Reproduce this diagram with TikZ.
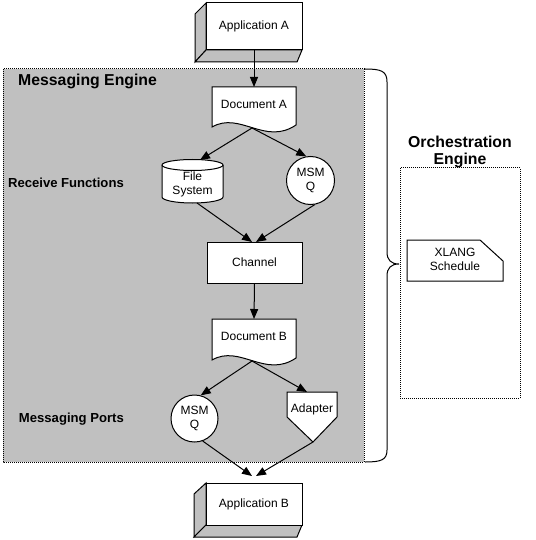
\documentclass[tikz,border=0pt]{standalone}
\usepackage{fontspec}
\setmainfont{Liberation Sans}
\usetikzlibrary{arrows.meta}
\definecolor{engray}{HTML}{C0C0C0}
\begin{document}
\begin{tikzpicture}[x=1pt,y=-1pt,
  shp/.style={draw=black, line width=1pt, fill=white},
  side/.style={draw=black, line width=1pt, fill=engray},
  txt/.style={font=\fontsize{12}{14}\selectfont, align=center, inner sep=0pt},
  ttl/.style={font=\fontsize{15.8}{17.5}\selectfont\bfseries, align=center, inner sep=0pt},
  lab/.style={font=\fontsize{13.1}{15}\selectfont\bfseries, inner sep=0pt, anchor=base east},
  conn/.style={draw=black, line width=1pt, -{Triangle[length=10pt,width=8pt]}},
  dotbox/.style={draw=black, line width=1pt, dash pattern=on 1pt off 1pt}]
\useasboundingbox (0,0) rectangle (535,540);

% engines
\path[dotbox, fill=engray] (3,69) rectangle (364,462);
\path[dotbox, fill=white] (400,168) rectangle (520,398);
\draw[line width=1pt] (365,69) .. controls (381,69) and (387,71) .. (387,82) -- (387,252)
  .. controls (387,260) and (391,264) .. (399,264)
  .. controls (391,264) and (387,268) .. (387,276) -- (387,450)
  .. controls (387,460) and (381,462) .. (365,462);

\node[ttl, anchor=base west] (meTitle) at (18,86) {Messaging Engine};
\node[ttl] (oeTitle) at (460,152) {Orchestration\\Engine};
\node[lab] (rf) at (124,187) {Receive Functions};
\node[lab] (mp) at (124,422) {Messaging Ports};

% Application A
\path[side] (206,3) -- (195,14) -- (195,62) -- (206,50) -- cycle;
\path[side] (206,50) -- (195,62) -- (297,62) -- (302,50) -- cycle;
\node[shp, txt, minimum width=96pt, minimum height=47pt] (appA) at (254,26.5) {Application A};

% Document A
\path[shp] (212,87) -- (296,87) -- (296,125) .. controls (265,146) and (240,111) .. (212,127) -- cycle;
\node[txt] (docA) at (254,104) {Document A};
\coordinate (docA-n) at (254,87);
\coordinate (docA-s) at (252,128);

% File System
\path[shp] (162,165) -- (162,197) arc[start angle=180, end angle=0, x radius=30.5, y radius=6]
  -- (223,165) arc[start angle=0, end angle=-180, x radius=30.5, y radius=5.5] -- cycle;
\draw[line width=1pt] (162,165) arc[start angle=180, end angle=0, x radius=30.5, y radius=5.5];
\node[txt] (fs) at (192.5,184) {File\\System};
\coordinate (fs-n) at (200,160);
\coordinate (fs-s) at (197,203);

% MSM Q (receive)
\node[shp, circle, txt, minimum size=48pt] (msmA) at (310.5,180.5) {MSM\\Q};

% Channel
\node[shp, txt, minimum width=95pt, minimum height=41pt] (channel) at (254.5,262.5) {Channel};
\coordinate (ch-n1) at (252,242);
\coordinate (ch-n2) at (256,242);

% Document B
\path[shp] (212,319) -- (296,319) -- (296,358) .. controls (265,379) and (240,344) .. (212,360) -- cycle;
\node[txt] (docB) at (254,336) {Document B};
\coordinate (docB-n) at (254,319);
\coordinate (docB-s) at (252,361);

% MSM Q (ports)
\node[shp, circle, txt, minimum size=47pt] (msmB) at (194.5,418.5) {MSM\\Q};

% Adapter
\path[shp] (287,392) -- (337,392) -- (337,417) -- (313,442) -- (287,417) -- cycle;
\node[txt] (adapter) at (312,409) {Adapter};
\coordinate (adp-n) at (307,392);
\coordinate (adp-s) at (313,442);

% Application B
\path[side] (206,483) -- (194,494) -- (194,537) -- (206,525) -- cycle;
\path[side] (206,525) -- (194,537) -- (297,537) -- (302,525) -- cycle;
\node[shp, txt, minimum width=96pt, minimum height=42pt] (appB) at (254,504) {Application B};
\coordinate (appB-n1) at (252,476);
\coordinate (appB-n2) at (256,476);

% XLANG Schedule
\path[shp] (407,240) -- (480,240) -- (503,261) -- (503,281) -- (407,281) -- cycle;
\node[txt] (xlang) at (455,259) {XLANG\\Schedule};

% connectors
\draw[conn] (appA.south) -- (docA-n);
\draw[conn] (docA-s) -- (fs-n);
\draw[conn] (docA-s) -- (msmA.100);
\draw[conn] (fs-s) -- (ch-n1);
\draw[conn] (msmA.-80) -- (ch-n2);
\draw[conn] (channel.south) -- (docB-n);
\draw[conn] (docB-s) -- (msmB.75);
\draw[conn] (docB-s) -- (adp-n);
\draw[conn] (msmB.-70) -- (appB-n1);
\draw[conn] (adp-s) -- (appB-n2);
\end{tikzpicture}
\end{document}
